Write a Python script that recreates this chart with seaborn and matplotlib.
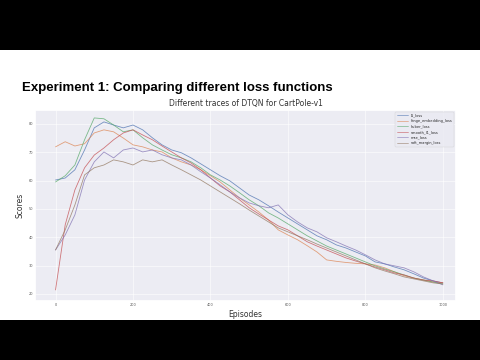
import numpy as np
import pandas as pd
import matplotlib
matplotlib.use("Agg")
import matplotlib.pyplot as plt
import seaborn as sns

episodes = list(range(0, 1001, 25))

l1_loss = [60.2, 60.9, 63.8, 70.8, 78.6, 80.7, 79.6, 78.6, 79.6, 77.9, 75.1, 72.6, 70.8, 69.8, 68.0, 65.9, 63.8,
           61.7, 59.9, 57.4, 54.9, 53.2, 51.1, 48.9, 46.8, 44.7, 42.6, 40.5, 39.1, 37.3, 36.2, 34.8, 33.4, 31.3,
           30.6, 29.5, 28.5, 27.1, 25.6, 24.6, 23.9]
hinge_embedding_loss = [71.9, 73.7, 72.2, 73.0, 76.8, 77.9, 77.2, 75.0, 72.6, 71.9, 70.8, 70.1, 68.0, 66.6, 65.5,
                        63.8, 61.7, 59.5, 56.7, 53.9, 51.4, 48.9, 46.1, 42.6, 40.8, 39.1, 37.0, 34.8, 32.0, 31.5,
                        31.1, 30.8, 30.6, 30.2, 29.2, 27.8, 26.4, 25.6, 24.9, 24.2, 23.9]
huber_loss = [59.5, 61.7, 65.5, 74.4, 82.1, 81.8, 79.6, 77.2, 77.9, 75.1, 72.6, 70.8, 69.1, 68.0, 66.6, 64.5, 62.0,
              60.2, 58.1, 55.7, 53.2, 51.1, 48.6, 46.8, 44.7, 42.6, 40.5, 38.7, 36.9, 35.5, 34.1, 32.7, 31.3, 29.9,
              28.8, 27.8, 26.7, 25.6, 24.9, 24.2, 23.5]
smooth_l1_loss = [21.4, 44.4, 56.7, 64.5, 69.0, 71.5, 74.4, 76.8, 77.9, 76.1, 74.4, 72.2, 70.1, 68.0, 66.2, 63.8,
                  60.9, 58.1, 56.0, 53.2, 50.4, 48.2, 46.1, 44.0, 42.6, 40.5, 38.4, 36.9, 35.5, 34.1, 32.7, 31.6,
                  30.6, 29.5, 28.5, 27.4, 26.7, 25.6, 24.9, 24.6, 23.9]
mse_loss = [35.5, 40.8, 47.9, 60.2, 66.6, 70.1, 68.0, 70.8, 71.5, 70.1, 70.8, 69.1, 68.0, 67.3, 65.5, 63.1, 60.9,
            58.5, 56.0, 53.9, 52.1, 51.1, 50.4, 51.4, 47.9, 45.4, 43.3, 41.9, 39.8, 38.4, 36.9, 35.5, 33.8, 32.0,
            30.6, 29.9, 29.2, 27.8, 26.0, 24.6, 23.2]
soft_margin_loss = [35.5, 42.6, 51.4, 62.0, 64.5, 65.5, 67.3, 66.6, 65.5, 67.3, 66.6, 67.3, 65.5, 63.8, 62.0, 60.2,
                    58.1, 56.0, 53.9, 51.8, 49.6, 47.5, 45.4, 43.3, 41.9, 40.5, 39.1, 37.6, 36.2, 34.8, 33.4, 32.0,
                    30.6, 29.2, 28.1, 27.1, 26.0, 25.3, 24.6, 23.9, 23.5]

series_names = ["l1_loss", "hinge_embedding_loss", "huber_loss", "smooth_l1_loss", "mse_loss", "soft_margin_loss"]
series_vals = [l1_loss, hinge_embedding_loss, huber_loss, smooth_l1_loss, mse_loss, soft_margin_loss]

x_ticks = [0, 200, 400, 600, 800, 1000]
y_ticks = [20, 30, 40, 50, 60, 70, 80]

rows = []
for name, vals in zip(series_names, series_vals):
    for e, v in zip(episodes, vals):
        rows.append({"Episodes": e, "Scores": v, "loss": name})
df = pd.DataFrame(rows)

sns.set_theme(style="darkgrid")
plt.rcParams['font.family'] = ['DejaVu Sans']

fig = plt.figure(figsize=(4.8, 3.6), dpi=100, facecolor="black")
# white slide area
slide = plt.Rectangle((0, 40 / 360), 1, 270 / 360, transform=fig.transFigure,
                      facecolor="white", edgecolor="none", zorder=-10)
fig.add_artist(slide)
fig.text(22 / 480, 1 - 88 / 360, "Experiment 1: Comparing different loss functions",
         fontsize=9.5, fontweight="bold", family="Liberation Sans", va="center", ha="left", color="black")

ax = fig.add_axes([35 / 480, 1 - 301 / 360, (456 - 35) / 480, (301 - 110) / 360])
ax.set_zorder(5)
ax.set_facecolor("#ECECF3")
sns.lineplot(data=df, x="Episodes", y="Scores", hue="loss", palette="deep", linewidth=0.6, alpha=0.75, ax=ax)
ax.set_xlim(-53, 1034)
ax.set_ylim(17.5, 84.9)
ax.set_xticks(x_ticks)
ax.set_yticks(y_ticks)
ax.tick_params(labelsize=2.5, colors="#555555", pad=1.5, length=0)
ax.grid(color="white", linewidth=0.4)
ax.set_xlabel("Episodes", fontsize=5.5, color="#333333", labelpad=2)
ax.set_ylabel("Scores", fontsize=5.5, color="#333333", labelpad=3)
ax.set_title("Different traces of DTQN for CartPole-v1", fontsize=5.5, color="#333333", pad=3)
leg = ax.legend(loc="upper right", fontsize=2.6, frameon=True, handlelength=3, borderpad=0.5,
                labelspacing=0.4)
leg.get_frame().set_linewidth(0.3)
for line in leg.get_lines():
    line.set_linewidth(0.5)

fig.savefig("out.png", dpi=100, facecolor="black")
